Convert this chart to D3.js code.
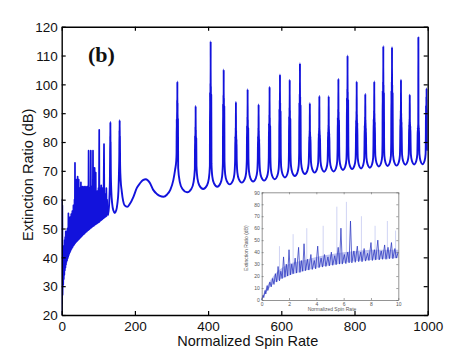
<!DOCTYPE html>
<html><head><meta charset="utf-8">
<script src="https://cdn.jsdelivr.net/npm/d3@7/dist/d3.min.js"></script>
<style>html,body{margin:0;padding:0;background:#fff;}svg{display:block;}</style>
</head><body>
<script>
// ---------- data ----------
const xTicks = [0, 200, 400, 600, 800, 1000];
const yTicks = [20, 30, 40, 50, 60, 70, 80, 90, 100, 110, 120];
const insetXTicks = [0, 2, 4, 6, 8, 10];
const insetYTicks = [0, 10, 20, 30, 40, 50, 60, 70, 80, 90];

// dense low-rate region [spin rate, extinction dB]
const earlyRegion = [
[0,20],[0.3,40],[0.5,60],[1,24],[1.8,58],[2.4,27],[3.5,38],[4.2,30.5],[5,42],[5.7,32.5],[6.5,44],[7.2,34],[8,46],[8.7,35.5],[9.5,47],[10.2,36.5],[11,49],[11.7,37.5],[12.5,46],[13.2,38.5],[14,48],[14.7,39],[15.5,50],[16.2,39.7],[17,46],[17.6,40.2],[18.3,55.3],[19.2,40.8],[20,50],[20.7,41.3],[21.5,52],[22.2,41.8],[23,54],[23.7,42.2],[24.5,51],[25.2,42.6],[26,55],[26.7,43],[27.5,53],[28.2,43.3],[29,56],[29.7,43.6],[30.5,55],[31.2,44],[32,58],[32.7,44.2],[33.5,57],[34.2,44.5],[35,60],[35.7,44.8],[36.3,72.8],[36.9,45],[37.5,62],[38.2,45.2],[39,59],[39.7,45.4],[40.5,67],[41.2,45.6],[42,61],[42.7,45.8],[43.5,68],[44.2,46],[45,60],[45.7,46.2],[46.5,67],[47.2,46.4],[48,61],[48.7,46.6],[49.5,64],[50.2,46.8],[51,60],[51.7,47],[52.5,66],[53.2,47.2],[54,61],[54.7,47.4],[55.5,63],[56.2,47.6],[57,64.5],[57.7,47.8],[58.5,60],[59.2,48],[60,62],[60.7,48.1],[61.5,64.5],[62.2,48.3],[63,60],[63.7,48.5],[64.5,62],[65.2,48.7],[66,64.5],[66.7,48.9],[67.5,61],[68.2,49],[69,63],[69.7,49.2],[70.5,64.5],[71.2,49.4],[72,61],[72.7,49.5],[73.5,77],[74.2,49.7],[75,63],[75.7,49.8],[76.5,64],[77.2,50],[78,62],[78.7,50.2],[79.5,77],[80.2,50.3],[81,63],[81.7,50.5],[82.5,64.5],[83.2,50.6],[84,62],[84.7,50.8],[85.5,77],[86.2,50.9],[87,63],[87.7,51],[88.5,62],[89.2,51.2],[90,71],[90.7,51.3],[91.5,61],[92.2,51.5],[93,69.4],[93.7,51.6],[94.5,62],[95.2,51.7],[96,61],[96.7,51.8],[97.5,63],[98.2,52],[99,61],[99.7,52.1],[100.5,64],[101.5,52.2],[102.5,84.2],[103.2,52.4],[104,64],[105,52.6],[106,62],[107,52.8],[108,65],[109,53],[110,61],[111,53.2],[112,64],[113.8,53.5],[115.6,79.3],[116.8,53.8],[118,62],[119,54],[120,60],[121,54.2],[122,64],[123,54.4],[124,60],[125.5,54.6]
];

// isolated peaks and the slow oscillation
const midRegion = [
[125.5,54.6],[128,56],[130,59.5],[131.6,66],[132.2,74],[132.6,82],[132.8,76],[133,87],[133.3,78],[133.6,80],[134.2,70],[135.5,63],[138,58.5],[141,56.3],[145,55.4],[149,56.3],[152,58.5],[155,63],[156.6,70],[157.4,76],[157.8,84],[158.1,79],[158.4,87.6],[158.7,79],[159,82],[159.6,72],[161,67],[164,63],[168,59.5],[172,58],[179,57.5],[186,58.5],[196,61],[205,64],[214,65.7],[222,66.8],[230,67.1],[240,66],[250,63.4],[260,62],[268,61.3],[278,61],[288,61.8],[297,63.5],[305,66.8],[310,70.5],[313,73.5]
];

// resonance comb, x > 313
const resonanceRegion = [
[313.8,76],[314.4,88],[314.8,77],[315.4,94.6],[315.7,80],[316,101],[316.3,80],[316.6,93.6],[317.2,77],[317.6,88],[318.2,71],[322.75,66.1],[329.5,63.8],[343,62.6],
[354.5,63.8],[360.25,66.1],[363.8,70.6],[364.4,82.3],[364.8,75.7],[365.4,85.3],[365.7,77.7],[366,92.5],[366.3,77.7],[366.6,84.3],[367.2,75.7],[367.6,81.3],[368.2,71.7],[371.1,67.2],[376.25,64.9],[386.5,63.7],
[396.75,64.9],[401.9,67.2],[404.8,71.7],[405.4,97.4],[405.8,76.5],[406.4,100.4],[406.7,78.5],[407,115],[407.3,78.5],[407.6,99.4],[408.2,76.5],[408.6,96.4],[409.2,72.5],[411.5,68],[416,65.7],[425,64.5],
[433.8,65.7],[438.2,68],[440.4,72.5],[441,93.3],[441.4,77.3],[442,96.3],[442.3,79.3],[442.6,105.2],[442.9,79.3],[443.2,95.3],[443.8,77.3],[444.2,92.3],[444.8,73.3],[446.7,68.8],[450.8,66.5],[459,65.3],
[467.5,66.5],[471.75,68.8],[473.8,73.3],[474.4,82],[474.8,77.9],[475.4,85],[475.7,79.9],[476,93.9],[476.3,79.9],[476.6,84],[477.2,77.9],[477.6,81],[478.2,73.9],[480,69.4],[484,67.1],[492,65.9],
[500,67.1],[504,69.4],[505.8,73.9],[506.4,85.8],[506.8,78.3],[507.4,88.8],[507.7,80.3],[508,98.3],[508.3,80.3],[508.6,87.8],[509.2,78.3],[509.6,84.8],[510.2,74.3],[511.75,69.8],[515.5,67.5],[523,66.3],
[530.5,67.5],[534.25,69.8],[535.8,74.3],[536.4,82],[536.8,78.6],[537.4,85],[537.7,80.6],[538,93],[538.3,80.6],[538.6,84],[539.2,78.6],[539.6,81],[540.2,74.6],[541.75,70.1],[545.5,67.8],[553,66.6],
[560.5,67.8],[564.25,70.1],[565.8,74.6],[566.4,86.5],[566.8,79.1],[567.4,89.5],[567.7,81.1],[568,99.2],[568.3,81.1],[568.6,88.5],[569.2,79.1],[569.6,85.5],[570.2,75.1],[571.5,70.6],[575,68.3],[582,67.1],
[589.2,68.3],[592.8,70.6],[594.2,75.1],[594.8,91.6],[595.2,79.7],[595.8,94.6],[596.1,81.7],[596.4,103.4],[596.7,81.7],[597,93.6],[597.6,79.7],[598,90.6],[598.6,75.7],[599.8,71.2],[603.2,68.9],[610,67.7],
[616.5,68.9],[619.75,71.2],[620.8,75.7],[621.4,89],[621.8,80.2],[622.4,92],[622.7,82.2],[623,101.6],[623.3,82.2],[623.6,91],[624.2,80.2],[624.6,88],[625.2,76.2],[626.5,71.7],[630,69.4],[637,68.2],
[644,69.4],[647.5,71.7],[648.8,76.2],[649.4,93.7],[649.8,80.9],[650.4,96.7],[650.7,82.9],[651,107.3],[651.3,82.9],[651.6,95.7],[652.2,80.9],[652.6,92.7],[653.2,76.9],[654.4,72.4],[657.75,70.1],[664.5,68.9],
[671.25,70.1],[674.6,72.4],[675.8,76.9],[676.4,82],[676.8,80],[677.4,84],[677.7,82],[678,93.5],[678.3,82],[678.6,83.5],[679.2,80.5],[679.6,82],[680.2,77.4],[681.25,72.9],[684.5,70.6],[691,69.4],
[697.5,70.6],[700.75,72.9],[701.8,77.4],[702.4,83],[702.8,81],[703.4,85],[703.7,83],[704,96],[704.3,83],[704.6,84.5],[705.2,81],[705.6,82.5],[706.2,77.7],[707.25,73.2],[710.5,70.9],[717,69.7],
[723.25,70.9],[726.4,73.2],[727.3,77.7],[727.9,83.5],[728.3,81.5],[728.9,86],[729.2,83.5],[729.5,95.9],[729.8,83.5],[730.1,85.5],[730.7,81.5],[731.1,83],[731.7,77.8],[732.9,73.3],[736.25,71],[743,69.8],
[749.5,71],[752.75,73.3],[753.8,77.8],[754.4,88.5],[754.8,82.3],[755.4,91.5],[755.7,84.3],[756,102],[756.3,84.3],[756.6,90.5],[757.2,82.3],[757.6,87.5],[758.2,78.3],[759.1,73.8],[762.25,71.5],[768.5,70.3],
[774.75,71.5],[777.9,73.8],[778.8,78.3],[779.4,95.5],[779.8,82.6],[780.4,98.5],[780.7,84.6],[781,110],[781.3,84.6],[781.6,97.5],[782.2,82.6],[782.6,94.5],[783.2,78.6],[784.1,74.1],[787.25,71.8],[793.5,70.6],
[799.75,71.8],[802.9,74.1],[803.8,78.6],[804.4,87.7],[804.8,82.8],[805.4,90.7],[805.7,84.8],[806,101],[806.3,84.8],[806.6,89.7],[807.2,82.8],[807.6,86.7],[808.2,78.8],[809,74.3],[812,72],[818,70.8],
[823.75,72],[826.6,74.3],[827.3,78.8],[827.9,85.8],[828.3,83.1],[828.9,88.8],[829.2,85.1],[829.5,96.7],[829.8,85.1],[830.1,87.8],[830.7,83.1],[831.1,84.8],[831.7,79.1],[832.6,74.6],[835.75,72.3],[842,71.1],
[848,72.3],[851,74.6],[851.8,79.1],[852.4,88],[852.8,83.5],[853.4,91],[853.7,85.5],[854,101],[854.3,85.5],[854.6,90],[855.2,83.5],[855.6,87],[856.2,79.5],[857.1,75],[860.25,72.7],[866.5,71.5],
[872.6,72.7],[875.65,75],[876.5,79.5],[877.1,97.9],[877.5,83.7],[878.1,100.9],[878.4,85.7],[878.7,113.3],[879,85.7],[879.3,99.9],[879.9,83.7],[880.3,96.9],[880.9,79.7],[881.65,75.2],[884.6,72.9],[890.5,71.7],
[896.5,72.9],[899.5,75.2],[900.3,79.7],[900.9,97.9],[901.3,83.8],[901.9,100.9],[902.2,85.8],[902.5,113],[902.8,85.8],[903.1,99.9],[903.7,83.8],[904.1,96.9],[904.7,79.8],[905.6,75.3],[908.75,73],[915,71.8],
[921,73],[924,75.3],[924.8,79.8],[925.4,88],[925.8,84.1],[926.4,91],[926.7,86.1],[927,101.6],[927.3,86.1],[927.6,90],[928.2,84.1],[928.6,87],[929.2,80.1],[930,75.6],[933,73.3],[939,72.1],
[945,73.3],[948,75.6],[948.8,80.1],[949.4,86],[949.8,84.2],[950.4,88],[950.7,86.2],[951,96.4],[951.3,86.2],[951.6,87],[952.2,84.2],[952.6,85.5],[953.2,80.2],[954,75.7],[957,73.4],[963,72.2],
[968.75,73.4],[971.6,75.7],[972.3,80.2],[972.9,85],[973.3,84.3],[973.9,85.6],[974.2,86.3],[974.5,116.3],[974.8,86.3],[975.1,85.6],[975.7,84.3],[976.1,85],[976.7,80.3],[977.4,75.8],[980.25,73.5],[986,72.3],
[991.5,73.5],[994.25,75.8],[994.8,80.3],[995.4,92.8],[995.8,84.3],[996.4,95.8],[996.7,86.3],[997,98.6],[997.3,86.3],[997.6,94.8],[998.2,84.3],[998.6,91],[999.2,80],[1000,77]
];

// inset: band envelope [x, low, high], dense trace, faint tall spikes [x, top, base]
const insetEnvelope = [[0,0,2],[0.5,9,14],[1,15,22],[1.5,18,27],[2,20.5,30],[3,24,33],[4,27,36],[5,29,38],[6,31,40],[7,32.5,41],[8,33.5,42],[9,34.5,42],[10,35,42]];
const insetBand = [
[0,0],[0.1,4],[0.15,2],[0.25,8],[0.3,5],[0.4,12],[0.45,8],[0.6,15],[0.7,11],[0.8,18],[0.9,13],[1.0,22],[1.1,15],[1.2,28],[1.3,16],[1.4,24],[1.5,18],[1.6,36],[1.7,19],[1.8,30],[1.9,20],[2.0,42],[2.1,21],[2.2,30],[2.3,22],[2.45,35],[2.55,22.5],[2.7,44],[2.8,23],[2.9,33],[3.0,24],[3.1,47],[3.2,24.5],[3.35,34],[3.45,25],[3.6,38],[3.7,25.5],[3.85,33],[3.95,26],[4.1,45],[4.2,27],[4.35,35],[4.45,27.5],[4.6,38],[4.7,28],[4.85,36],[4.95,28.5],[5.1,40],[5.2,29],[5.35,37],[5.45,29.5],[5.6,44],[5.7,30],[5.8,60],[5.9,30],[6.05,38],[6.15,30.5],[6.3,40],[6.4,31],[6.5,66],[6.6,31],[6.75,41],[6.85,31.5],[7.0,45],[7.1,32],[7.25,40],[7.35,32],[7.5,43],[7.6,32.5],[7.75,39],[7.85,33],[8.0,48],[8.1,33],[8.25,42],[8.35,33.5],[8.5,50],[8.6,33.5],[8.75,41],[8.85,34],[9.0,46],[9.1,34],[9.25,44],[9.35,34.5],[9.5,48],[9.6,34.5],[9.75,43],[9.85,35],[10,40]
];
const insetFaint = [[1.3,45,18],[2.3,55,22],[3.3,60,25],[4.5,62,28],[5.5,78,30],[6.2,82,30],[7.3,70,32],[8.3,62,33],[9.2,66,34],[9.8,58,35]];

// ---------- drawing ----------
const W = 474, H = 354;
const m = {l: 61.7, r: 427.7, t: 26.7, b: 315};
const svg = d3.select("body").append("svg").attr("width", W).attr("height", H);
const x = d3.scaleLinear().domain([0, 1000]).range([m.l, m.r]);
const y = d3.scaleLinear().domain([20, 120]).range([m.b, m.t]);
const blue = "#1212dc";
const font = "Liberation Sans, Arial, sans-serif";

svg.append("defs").append("clipPath").attr("id", "clip")
  .append("rect").attr("x", m.l).attr("y", m.t).attr("width", m.r - m.l).attr("height", m.b - m.t);

const g = svg.append("g").attr("clip-path", "url(#clip)");
const lineLin = d3.line().x(d => x(d[0])).y(d => y(d[1]));
const lineMono = d3.line().x(d => x(d[0])).y(d => y(d[1])).curve(d3.curveMonotoneX);
g.append("path").attr("d", lineLin(earlyRegion)).attr("fill", "none").attr("stroke", blue).attr("stroke-width", 1.7).attr("stroke-linejoin", "round");
g.append("path").attr("d", lineMono(midRegion.concat(resonanceRegion))).attr("fill", "none").attr("stroke", blue).attr("stroke-width", 1.9).attr("stroke-linejoin", "round");

// axes (MATLAB style box with inward ticks)
const tl = 4;
const fmt = d3.format("d");
const axB = svg.append("g").attr("transform", `translate(0,${m.b})`)
  .call(d3.axisBottom(x).tickValues(xTicks).tickFormat(fmt).tickSizeInner(-tl).tickSizeOuter(0).tickPadding(6));
const axL = svg.append("g").attr("transform", `translate(${m.l},0)`)
  .call(d3.axisLeft(y).tickValues(yTicks).tickFormat(fmt).tickSizeInner(-tl).tickSizeOuter(0).tickPadding(4));
const axT = svg.append("g").attr("transform", `translate(0,${m.t})`)
  .call(d3.axisTop(x).tickValues(xTicks).tickSizeInner(-tl).tickSizeOuter(0).tickFormat(""));
const axR = svg.append("g").attr("transform", `translate(${m.r},0)`)
  .call(d3.axisRight(y).tickValues(yTicks).tickSizeInner(-tl).tickSizeOuter(0).tickFormat(""));
[axB, axL, axT, axR].forEach(a => {
  a.selectAll(".domain").attr("stroke", "#000").attr("stroke-width", 1.4);
  a.selectAll(".tick line").attr("stroke", "#000").attr("stroke-width", 1.2);
  a.selectAll("text").attr("font-family", font).attr("font-size", 13.5).attr("fill", "#111");
});
axL.selectAll("text").attr("dy", "0.35em");

svg.append("text").attr("x", (m.l + m.r) / 2 + 3).attr("y", 346)
  .attr("text-anchor", "middle").attr("font-family", font).attr("font-size", 14.5).attr("fill", "#111")
  .text("Normalized Spin Rate");
svg.append("text").attr("transform", `translate(33,${(m.t + m.b) / 2 + 4}) rotate(-90)`)
  .attr("text-anchor", "middle").attr("font-family", font).attr("font-size", 14.5).attr("fill", "#111")
  .text("Extinction Ratio (dB)");
svg.append("text").attr("x", 88).attr("y", 62).attr("font-family", "Liberation Serif, Times New Roman, serif")
  .attr("font-weight", "bold").attr("font-size", 22).attr("fill", "#111").text("(b)");

// ---------- inset ----------
const ib = {l: 261.7, r: 398.3, t: 192.3, b: 300};
const ix = d3.scaleLinear().domain([0, 10]).range([ib.l, ib.r]);
const iy = d3.scaleLinear().domain([0, 90]).range([ib.b, ib.t]);
svg.append("rect").attr("x", ib.l).attr("y", ib.t).attr("width", ib.r - ib.l).attr("height", ib.b - ib.t).attr("fill", "#fff");
const ig = svg.append("g");
ig.append("path").attr("d", d3.area().x(d => ix(d[0])).y0(d => iy(d[1])).y1(d => iy(d[2])).curve(d3.curveMonotoneX)(insetEnvelope))
  .attr("fill", "#4a55d0").attr("fill-opacity", 0.35);
ig.selectAll("line.faint").data(insetFaint).join("line").attr("class", "faint")
  .attr("x1", d => ix(d[0])).attr("x2", d => ix(d[0])).attr("y1", d => iy(d[2])).attr("y2", d => iy(d[1]))
  .attr("stroke", "#7a86e0").attr("stroke-opacity", 0.45).attr("stroke-width", 0.8);
const iline = d3.line().x(d => ix(d[0])).y(d => iy(d[1]));
ig.append("path").attr("d", iline(insetBand)).attr("fill", "none").attr("stroke", "#2a36c0").attr("stroke-opacity", 0.75).attr("stroke-width", 1);

const iaB = svg.append("g").attr("transform", `translate(0,${ib.b})`)
  .call(d3.axisBottom(ix).tickValues(insetXTicks).tickSizeInner(-2).tickSizeOuter(0).tickPadding(2));
const iaL = svg.append("g").attr("transform", `translate(${ib.l},0)`)
  .call(d3.axisLeft(iy).tickValues(insetYTicks).tickSizeInner(-2).tickSizeOuter(0).tickPadding(2));
const iaT = svg.append("g").attr("transform", `translate(0,${ib.t})`)
  .call(d3.axisTop(ix).tickValues(insetXTicks).tickSizeInner(-2).tickSizeOuter(0).tickFormat(""));
const iaR = svg.append("g").attr("transform", `translate(${ib.r},0)`)
  .call(d3.axisRight(iy).tickValues(insetYTicks).tickSizeInner(-2).tickSizeOuter(0).tickFormat(""));
[iaB, iaL, iaT, iaR].forEach(a => {
  a.selectAll(".domain").attr("stroke", "#666").attr("stroke-width", 0.7);
  a.selectAll(".tick line").attr("stroke", "#666").attr("stroke-width", 0.6);
  a.selectAll("text").attr("font-family", font).attr("font-size", 5).attr("fill", "#555");
});
iaL.selectAll("text").attr("dy", "0.35em");
svg.append("text").attr("x", (ib.l + ib.r) / 2 + 2).attr("y", 311)
  .attr("text-anchor", "middle").attr("font-family", font).attr("font-size", 5).attr("fill", "#555")
  .text("Normalized Spin Rate");
svg.append("text").attr("transform", `translate(248,${(ib.t + ib.b) / 2 + 2}) rotate(-90)`)
  .attr("text-anchor", "middle").attr("font-family", font).attr("font-size", 5).attr("fill", "#555")
  .text("Extinction Ratio (dB)");
</script>
</body></html>
